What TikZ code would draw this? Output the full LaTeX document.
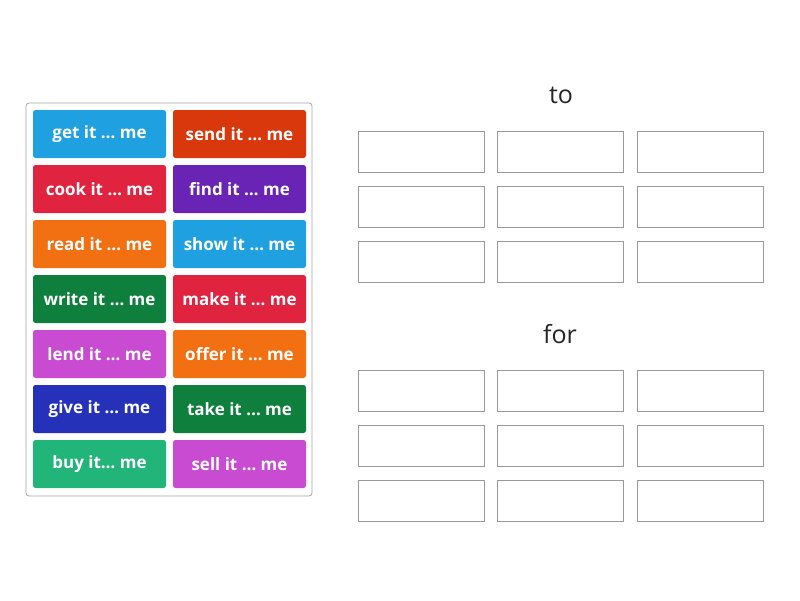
\documentclass[tikz,border=0pt]{standalone}
\usepackage{fontspec}
\setmainfont{Open Sans}
\definecolor{cblue}{HTML}{1FA0E0}
\definecolor{cbrick}{HTML}{D8380C}
\definecolor{cred}{HTML}{E0233F}
\definecolor{cpurple}{HTML}{6A24B5}
\definecolor{corange}{HTML}{F27012}
\definecolor{cgreen}{HTML}{0F7F3D}
\definecolor{cmag}{HTML}{C94BD1}
\definecolor{cnavy}{HTML}{2431B8}
\definecolor{cteal}{HTML}{22B57A}
\begin{document}
\begin{tikzpicture}[x=1pt,y=-1pt,
  tile/.style={fill=#1,rounded corners=2.5pt,minimum width=133pt,minimum height=48pt,text=white,font=\fontsize{17}{20}\selectfont\bfseries,inner sep=0pt},
  slot/.style={draw=black!40,line width=0.8pt,minimum width=126pt,minimum height=41pt,inner sep=0pt},
  head/.style={font=\fontsize{25}{30}\selectfont,text=black!85}]
\useasboundingbox[fill=white] (0,0) rectangle (800,600);
\node[draw=black!35,line width=0.8pt,rounded corners=3pt,minimum width=286pt,minimum height=393pt] (panel) at (169,299.5) {};
\foreach \t/\c [count=\i from 0] in {get it \dots\ me/cblue, cook it \dots\ me/cred, read it \dots\ me/corange, write it \dots\ me/cgreen, lend it \dots\ me/cmag, give it \dots\ me/cnavy, buy it\dots\ me/cteal}
  \node[tile=\c] (l\i) at (99.5,134+55*\i) {\t};
\foreach \t/\c [count=\i from 0] in {send it \dots\ me/cbrick, find it \dots\ me/cpurple, show it \dots\ me/cblue, make it \dots\ me/cred, offer it \dots\ me/corange, take it \dots\ me/cgreen, sell it \dots\ me/cmag}
  \node[tile=\c] (r\i) at (239.5,134+55*\i) {\t};
\node[head] (to) at (561,95) {to};
\node[head] (for) at (560,334) {for};
\foreach \x [count=\j] in {421,560,700}
  \foreach \r [count=\k] in {0,1,2} {
    \node[slot] (a\j\k) at (\x,151.5+55*\r) {};
    \node[slot] (b\j\k) at (\x,390.5+55*\r) {};
  }
\end{tikzpicture}
\end{document}
